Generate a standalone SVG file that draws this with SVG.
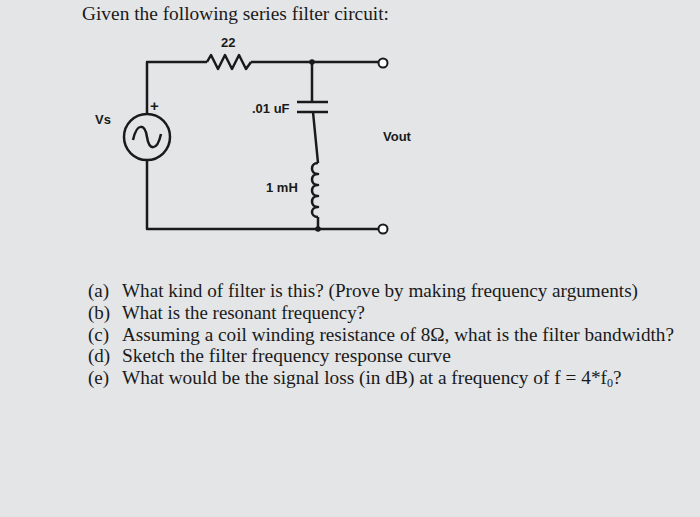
<svg xmlns="http://www.w3.org/2000/svg" width="700" height="517" viewBox="0 0 700 517">
<style>
.w{fill:none;stroke:#1a1a1a;stroke-width:2.5;stroke-linejoin:round}
.s{font-family:"Liberation Sans",Arial,sans-serif;font-size:13px;font-weight:bold;fill:#1a1a1a}
.q{font-family:"Liberation Serif","Times New Roman",serif;font-size:19px;fill:#1a1a1a}
</style>
<rect width="700" height="517" fill="#e3e5e7"/>
<text class="q" x="82" y="20" textLength="307" lengthAdjust="spacingAndGlyphs">Given the following series filter circuit:</text>
<g id="connectors">
<path class="w" d="M147,114 V62 H207 M251,62 H378 M312,62 V102 M313,112 L318,163 M318,217 V229 H378 M147,160 V229 H318"/>
<circle cx="312" cy="62" r="2.8" fill="#1a1a1a"/>
<circle cx="318" cy="229" r="2.8" fill="#1a1a1a"/>
</g>
<g id="R1"><path class="w" d="M207,62 L211,55 L218,69 L225,55 L232,69 L239,55 L246,69 L251,62"/><text class="s" x="221" y="47">22</text></g>
<g id="C1"><path class="w" d="M297,102 H328 M297,112 H328"/><text class="s" x="252" y="113">.01 uF</text></g>
<g id="L1"><path class="w" d="M318,163 c-8,0 -8,11 0,11 c-8,0 -8,11 0,11 c-8,0 -8,11 0,11 c-8,0 -8,11 0,11 c-8,0 -8,10 0,10"/><text class="s" x="266" y="192">1 mH</text></g>
<g id="Vs"><circle class="w" cx="147" cy="137" r="23"/><path class="w" d="M133,140 C137,122 145,124 147,137 C149,150 157,152 161,134"/><text class="s" x="150" y="111" style="font-size:15px">+</text><text class="s" x="95" y="124">Vs</text></g>
<g id="out"><circle cx="383" cy="63" r="4.5" fill="#fff" stroke="#1a1a1a" stroke-width="2"/><circle cx="383" cy="229" r="4.5" fill="#fff" stroke="#1a1a1a" stroke-width="2"/><text class="s" x="383" y="141">Vout</text></g>
<text class="q" x="88" y="297">(a)<tspan x="122" textLength="516" lengthAdjust="spacingAndGlyphs">What kind of filter is this? (Prove by making frequency arguments)</tspan></text>
<text class="q" x="88" y="319">(b)<tspan x="122" textLength="243" lengthAdjust="spacingAndGlyphs">What is the resonant frequency?</tspan></text>
<text class="q" x="88" y="341">(c)<tspan x="122" textLength="552" lengthAdjust="spacingAndGlyphs">Assuming a coil winding resistance of 8Ω, what is the filter bandwidth?</tspan></text>
<text class="q" x="88" y="362">(d)<tspan x="122" textLength="329" lengthAdjust="spacingAndGlyphs">Sketch the filter frequency response curve</tspan></text>
<text class="q" x="88" y="384">(e)<tspan x="122" textLength="485" lengthAdjust="spacingAndGlyphs">What would be the signal loss (in dB) at a frequency of f = 4*f</tspan><tspan font-size="12" dy="3">0</tspan><tspan dy="-3">?</tspan></text>
</svg>
